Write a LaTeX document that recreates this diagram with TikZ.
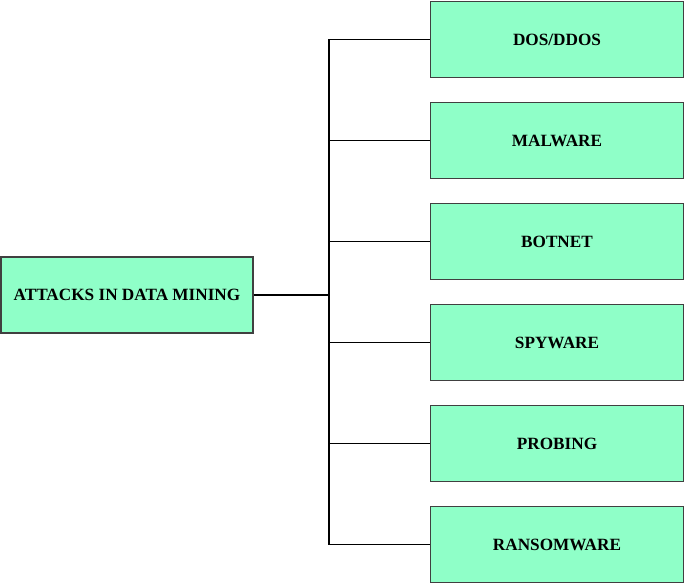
\documentclass[tikz,border=0pt]{standalone}
\usepackage{fontspec}
\setmainfont{Liberation Serif}
\begin{document}
\begin{tikzpicture}[x=0.75pt,y=-0.75pt,
		attackbox/.style={draw=boxborder, fill=boxfill, line width=0.8pt,
			minimum width=190pt, minimum height=57pt, inner sep=0pt,
			font=\fontsize{12.9}{15}\selectfont\bfseries},
		link/.style={line width=1.1pt, black}]
		
		% Define colors
		\definecolor{boxfill}{RGB}{143, 255, 200}
		\definecolor{boxborder}{RGB}{64, 64, 64}
		
		% Fix the page size
		\useasboundingbox (0,0) rectangle (685,586);
		
		% Draw the root box
		\node[attackbox, minimum width=189pt] (root) at (127,295) {ATTACKS IN DATA MINING};
		\coordinate (split) at (329,295);
		\draw[link] (root) -- (split);
		
		% Draw the attack types
		\foreach \name [count=\i from 0] in {DOS/DDOS, MALWARE, BOTNET, SPYWARE, PROBING, RANSOMWARE} {
			\node[attackbox] (type\i) at (557,39.5+101*\i) {\name};
			\draw[link] (split) |- (type\i.west);
		}
	\end{tikzpicture}
\end{document}
